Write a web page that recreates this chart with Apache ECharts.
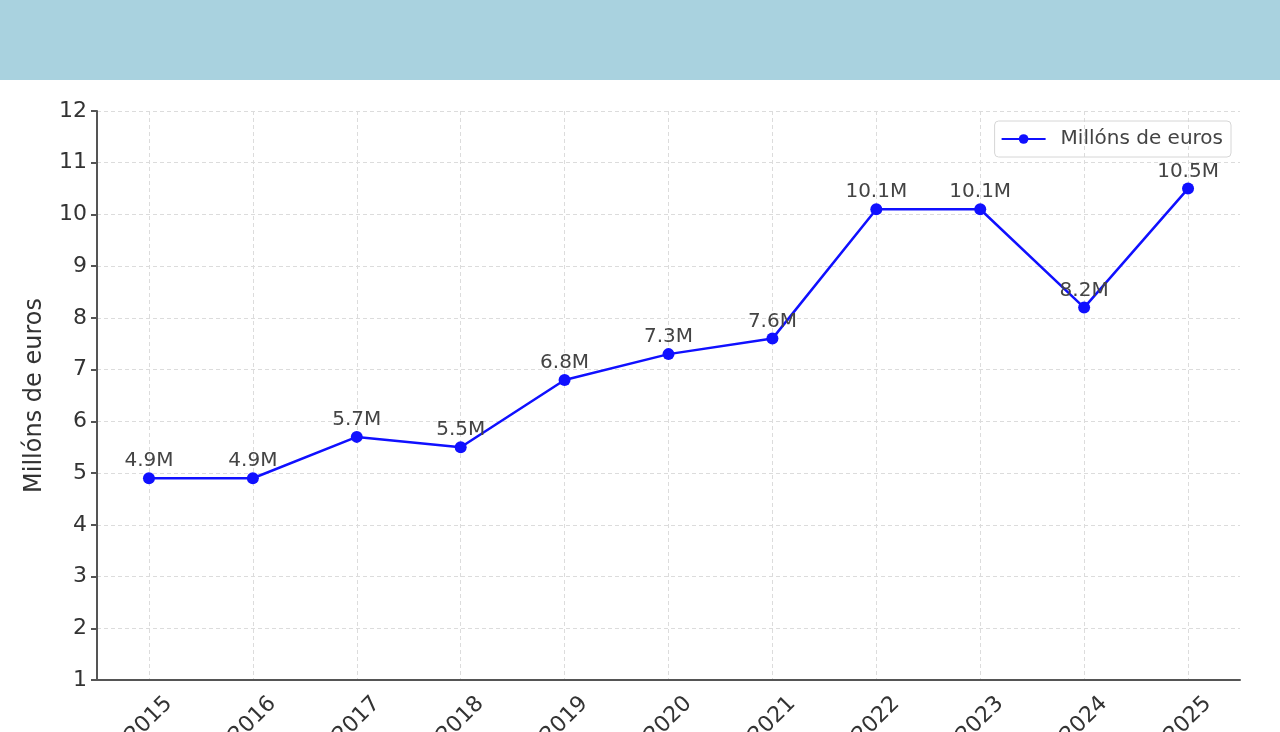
<!DOCTYPE html>
<html>
<head>
<meta charset="utf-8">
<script src="https://cdn.jsdelivr.net/npm/echarts@6/dist/echarts.min.js"></script>
<style>
  html, body { margin: 0; padding: 0; background: #fff; }
  #chart { width: 1280px; height: 732px; }
</style>
</head>
<body>
<div id="chart"></div>
<script>
// datos
const years = ["2015", "2016", "2017", "2018", "2019", "2020", "2021", "2022", "2023", "2024", "2025"];
const millons = [4.9, 4.9, 5.7, 5.5, 6.8, 7.3, 7.6, 10.1, 10.1, 8.2, 10.5];
const seriesName = "Millóns de euros";

const chart = echarts.init(document.getElementById("chart"));
const gridLine = { show: true, lineStyle: { color: "#dcdcdc", type: [4, 3], width: 1 } };

chart.setOption({
  animation: false,
  graphic: [
    { type: "rect", left: 0, top: 0, shape: { width: 1280, height: 80 }, style: { fill: "#a9d2df" }, z: -1 }
  ],
  grid: { left: 97, right: 40, top: 111, bottom: 52, outerBoundsMode: "none" },
  legend: {
    right: 49, top: 121,
    padding: [8, 8, 8, 6],
    borderColor: "#d6d6d6", borderWidth: 1, borderRadius: 4,
    itemWidth: 44, itemHeight: 12,
    textStyle: { fontSize: 20, color: "#444", fontFamily: "DejaVu Sans", padding: [0, 0, 0, 10] },
    data: [seriesName]
  },
  xAxis: {
    type: "category",
    data: years,
    boundaryGap: true,
    axisLine: { lineStyle: { color: "#555", width: 2 } },
    axisTick: { alignWithLabel: true, length: 6, lineStyle: { color: "#555", width: 2 } },
    axisLabel: {
      rotate: 45, fontSize: 22, color: "#333", margin: 40,
      align: "center", verticalAlign: "middle", fontFamily: "DejaVu Sans"
    },
    splitLine: Object.assign({ alignWithLabel: true }, gridLine)
  },
  yAxis: {
    type: "value",
    min: 1, max: 12, interval: 1,
    name: "Millóns de euros",
    nameLocation: "middle",
    nameGap: 50,
    nameTextStyle: { fontSize: 24, color: "#333", fontFamily: "DejaVu Sans" },
    axisLine: { show: true, lineStyle: { color: "#555", width: 2 } },
    axisTick: { show: true, length: 6, lineStyle: { color: "#555", width: 2 } },
    axisLabel: { fontSize: 22, color: "#333", margin: 10, fontFamily: "DejaVu Sans" },
    splitLine: gridLine
  },
  series: [{
    name: seriesName,
    type: "line",
    data: millons,
    symbol: "circle",
    symbolSize: 12,
    itemStyle: { color: "#1010ff" },
    lineStyle: { color: "#1010ff", width: 2.5 },
    label: {
      show: true, position: "top", distance: 1,
      fontSize: 20, color: "#444", fontFamily: "DejaVu Sans",
      formatter: p => p.value + "M"
    }
  }]
});
</script>
</body>
</html>
